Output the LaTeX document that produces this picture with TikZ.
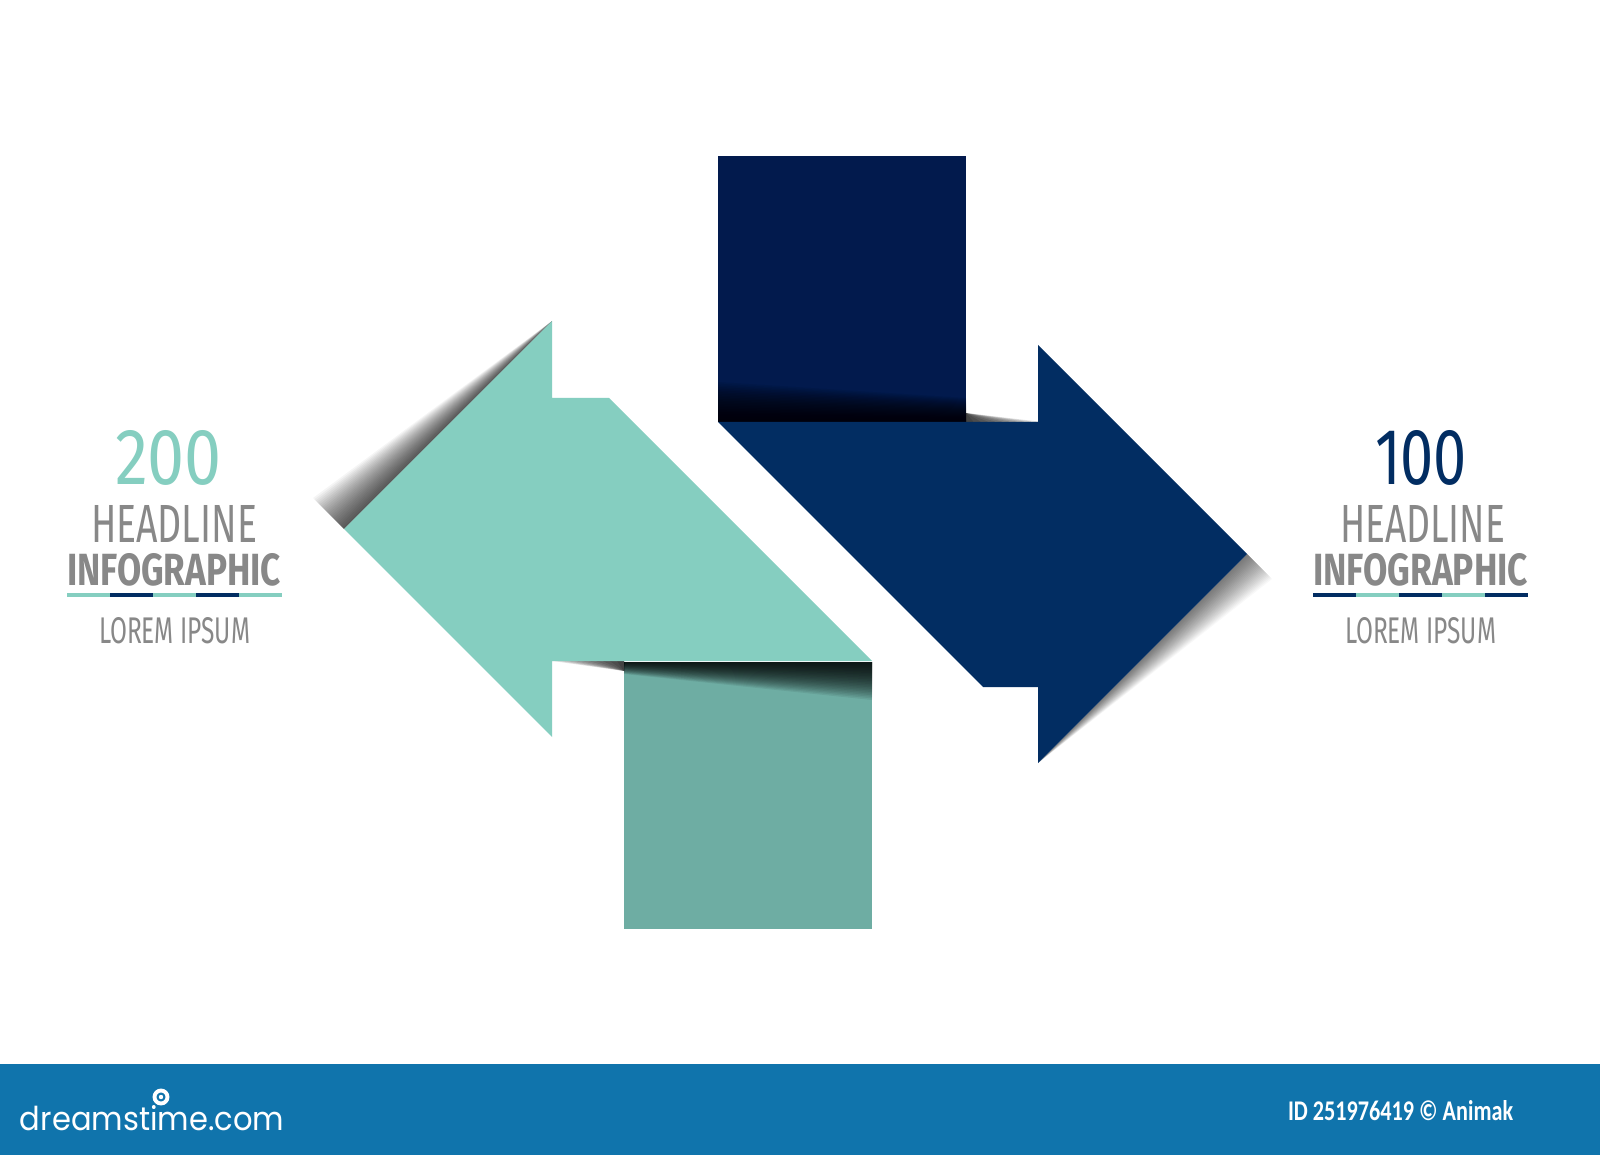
\documentclass[tikz,border=0pt]{standalone}
\usepackage{fontspec}
\setmainfont{Fira Sans}
\newfontfamily\footfont{Carlito}
\newfontfamily\logofont{Poppins}
\usepackage{graphicx}
\definecolor{tealband}{RGB}{133,206,192}
\definecolor{tealsq}{RGB}{110,173,163}
\definecolor{navysq}{RGB}{2,26,77}
\definecolor{navyband}{RGB}{2,45,98}
\definecolor{footblue}{RGB}{16,116,172}
\definecolor{txtgray}{RGB}{136,136,136}
\tikzset{
  txt/.style={inner sep=0pt, outer sep=0pt, anchor=north west},
  shadowlayer/.style={fill=black, opacity=#1},
}
\begin{document}
\begin{tikzpicture}[x=0.01cm,y=-0.01cm]
\useasboundingbox (0,0) rectangle (1600,1155);
\fill[white] (0,0) rectangle (1600,1155);

% ---------- soft shadows under the arrow edges ----------
\foreach \k in {1,...,24}{
  \fill[shadowlayer=0.038] (552,321) -- (344,529) -- ({344-31*\k/24},{529-31*\k/24}) -- cycle;
  \fill[shadowlayer=0.026] (1038,763) -- (1247,554) -- ({1247+25*\k/24},{554+25*\k/24}) -- cycle;
}

% ---------- squares ----------
\fill[navysq] (718,156) rectangle (966,422);
\fill[tealsq] (624,662) rectangle (872,929);

% fold shadows inside squares (stacked translucent layers)
\foreach \k in {1,...,24}{
  \fill[shadowlayer=0.065] (718,422) -- (966,422) -- (966,{422-24*\k/24}) -- (718,{422-40*\k/24}) -- cycle;
  \fill[shadowlayer=0.07] (624,662) -- (872,662) -- (872,{662+38*\k/24}) -- (624,{662+12*\k/24}) -- cycle;
}

% small cast shadows beside the folds
\foreach \k in {1,...,10}{
  \fill[shadowlayer=0.12] (966,423) -- ({966+72*\k/10},423) -- ({966+72*\k/10},421.5) -- (966,413) -- cycle;
  \fill[shadowlayer=0.12] (624,661) -- ({624-71*\k/10},661) -- (624,671) -- cycle;
}

% ---------- arrows ----------
\fill[navyband] (718,422) -- (1038,422) -- (1038,345) -- (1247,554)
  -- (1038,763) -- (1038,687) -- (983,687) -- cycle;
\fill[tealband] (344,529) -- (552,321) -- (552,398) -- (609,398)
  -- (872,661) -- (552,661) -- (552,737) -- cycle;

% ---------- left text block ----------
\node[txt] (num200) at (115,430) {\color{tealband}\resizebox{1.07cm}{0.54cm}{200}};
\node[txt] (headL) at (91,505) {\color{txtgray}\resizebox{1.66cm}{0.37cm}{HEADLINE}};
\node[txt] (infoL) at (67,553) {\color{txtgray}\resizebox{2.14cm}{0.32cm}{\bfseries INFOGRAPHIC}};
\fill[tealband] (67,593) rectangle (110,597);
\fill[navyband] (110,593) rectangle (153,597);
\fill[tealband] (153,593) rectangle (196,597);
\fill[navyband] (196,593) rectangle (239,597);
\fill[tealband] (239,593) rectangle (282,597);
\node[txt] (loremL) at (99,617) {\color{txtgray}\resizebox{1.51cm}{0.26cm}{LOREM IPSUM}};

% ---------- right text block ----------
\node[txt] (num100) at (1375,430) {\color{navyband}\resizebox{0.92cm}{0.54cm}{100}};
\node[txt] (headR) at (1340,505) {\color{txtgray}\resizebox{1.65cm}{0.37cm}{HEADLINE}};
\node[txt] (infoR) at (1313,553) {\color{txtgray}\resizebox{2.15cm}{0.32cm}{\bfseries INFOGRAPHIC}};
\fill[navyband] (1313,593) rectangle (1356,597);
\fill[tealband] (1356,593) rectangle (1399,597);
\fill[navyband] (1399,593) rectangle (1442,597);
\fill[tealband] (1442,593) rectangle (1485,597);
\fill[navyband] (1485,593) rectangle (1528,597);
\node[txt] (loremR) at (1345,617) {\color{txtgray}\resizebox{1.51cm}{0.26cm}{LOREM IPSUM}};

% ---------- footer ----------
\fill[footblue] (0,1064) rectangle (1600,1155);
\node[txt] (logo) at (20,1105) {\color{white}\resizebox{2.64cm}{0.25cm}{\raisebox{0pt}[\height][0pt]{\logofont dreamstime.com}}};
\draw[white, line width=1.1pt] (161,1097) circle (6.5);
\fill[white] (161,1097) circle (2.2);
\node[txt] (credit) at (1288,1100) {\color{white}\resizebox{2.25cm}{0.20cm}{\raisebox{0pt}[\height][0pt]{\footfont\bfseries ID 251976419 © Animak}}};
\end{tikzpicture}
\end{document}
